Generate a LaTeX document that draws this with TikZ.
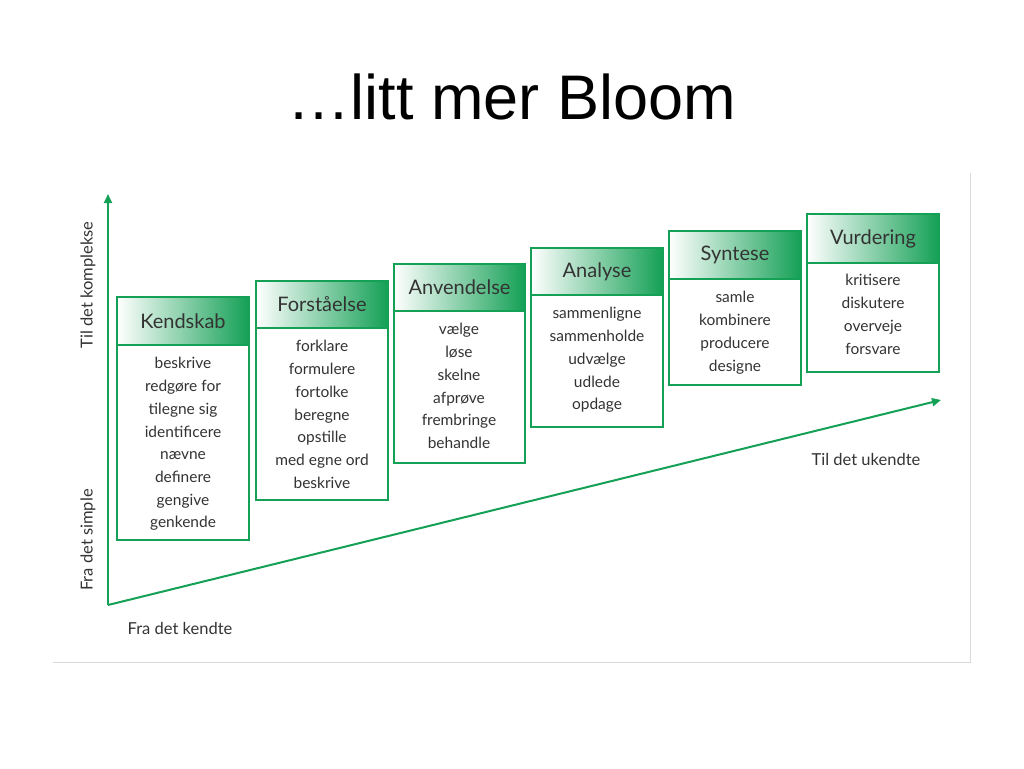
\documentclass[tikz,border=0pt]{standalone}
\usepackage{fontspec}
\setmainfont{Lato}
\newfontfamily\titlefont{Liberation Sans}
\usetikzlibrary{arrows.meta}
\definecolor{bloomgreen}{RGB}{20,160,85}

\tikzset{
	items/.style={anchor=north, align=center, font=\fontsize{15.5}{22.7}\selectfont, text=black!80},
	axis/.style={bloomgreen, line width=2pt, -{Triangle[length=9pt,width=8pt]}},
	axlabel/.style={font=\fontsize{16.5}{18}\selectfont, text=black!80}
}

% box: name, left, top, header bottom, bottom, right, title
\newcommand{\stagebox}[7]{
	\draw[bloomgreen, line width=2.5pt, fill=white] (#2,#4) rectangle (#6,#5);
	\shade[left color=white, right color=bloomgreen] (#2,#3) rectangle (#6,#4);
	\draw[bloomgreen, line width=2.5pt] (#2,#3) rectangle (#6,#4);
	\node[font=\fontsize{20}{22}\selectfont, text=black!80] (#1head) at ({(#2+#6)/2},{(#3+#4)/2}) {#7};
}

\begin{document}
\begin{tikzpicture}[x=1pt, y=-1pt]

\useasboundingbox (0,0) rectangle (1024,768);

\node[font=\titlefont\fontsize{63}{70}\selectfont] (title) at (512,97) {\ldots litt mer Bloom};

\draw[black!15, line width=1pt] (53,662) -- (970,662) -- (970,173);

\stagebox{kend}{117}{297}{345}{540}{249}{Kendskab}
\stagebox{forst}{256}{281}{328}{500}{388}{Forståelse}
\stagebox{anv}{394}{264}{311}{463}{525}{Anvendelse}
\stagebox{anal}{531}{248}{295}{427}{663}{Analyse}
\stagebox{synt}{669}{231}{279}{385}{801}{Syntese}
\stagebox{vurd}{807}{214}{263}{372}{939}{Vurdering}

\node[items] (kenditems) at (183,354) {beskrive\\redgøre for\\tilegne sig\\identificere\\nævne\\definere\\gengive\\genkende};
\node[items] (forstitems) at (322,337) {forklare\\formulere\\fortolke\\beregne\\opstille\\med egne ord\\beskrive};
\node[items] (anvitems) at (459,320) {vælge\\løse\\skelne\\afprøve\\frembringe\\behandle};
\node[items] (analitems) at (597,304) {sammenligne\\sammenholde\\udvælge\\udlede\\opdage};
\node[items] (syntitems) at (735,288) {samle\\kombinere\\producere\\designe};
\node[items] (vurditems) at (873,271) {kritisere\\diskutere\\overveje\\forsvare};

\coordinate (origin) at (108,605);
\coordinate (top) at (108,194);
\coordinate (far) at (941,400);
\draw[axis] (origin) -- (top);
\draw[axis] (origin) -- (far);

\node[axlabel, rotate=90] (simple) at (88,540) {Fra det simple};
\node[axlabel, rotate=90] (kompleks) at (88,285) {Til det komplekse};
\node[axlabel] (kendte) at (180,628) {Fra det kendte};
\node[axlabel] (ukendte) at (866,459) {Til det ukendte};

\end{tikzpicture}
\end{document}
